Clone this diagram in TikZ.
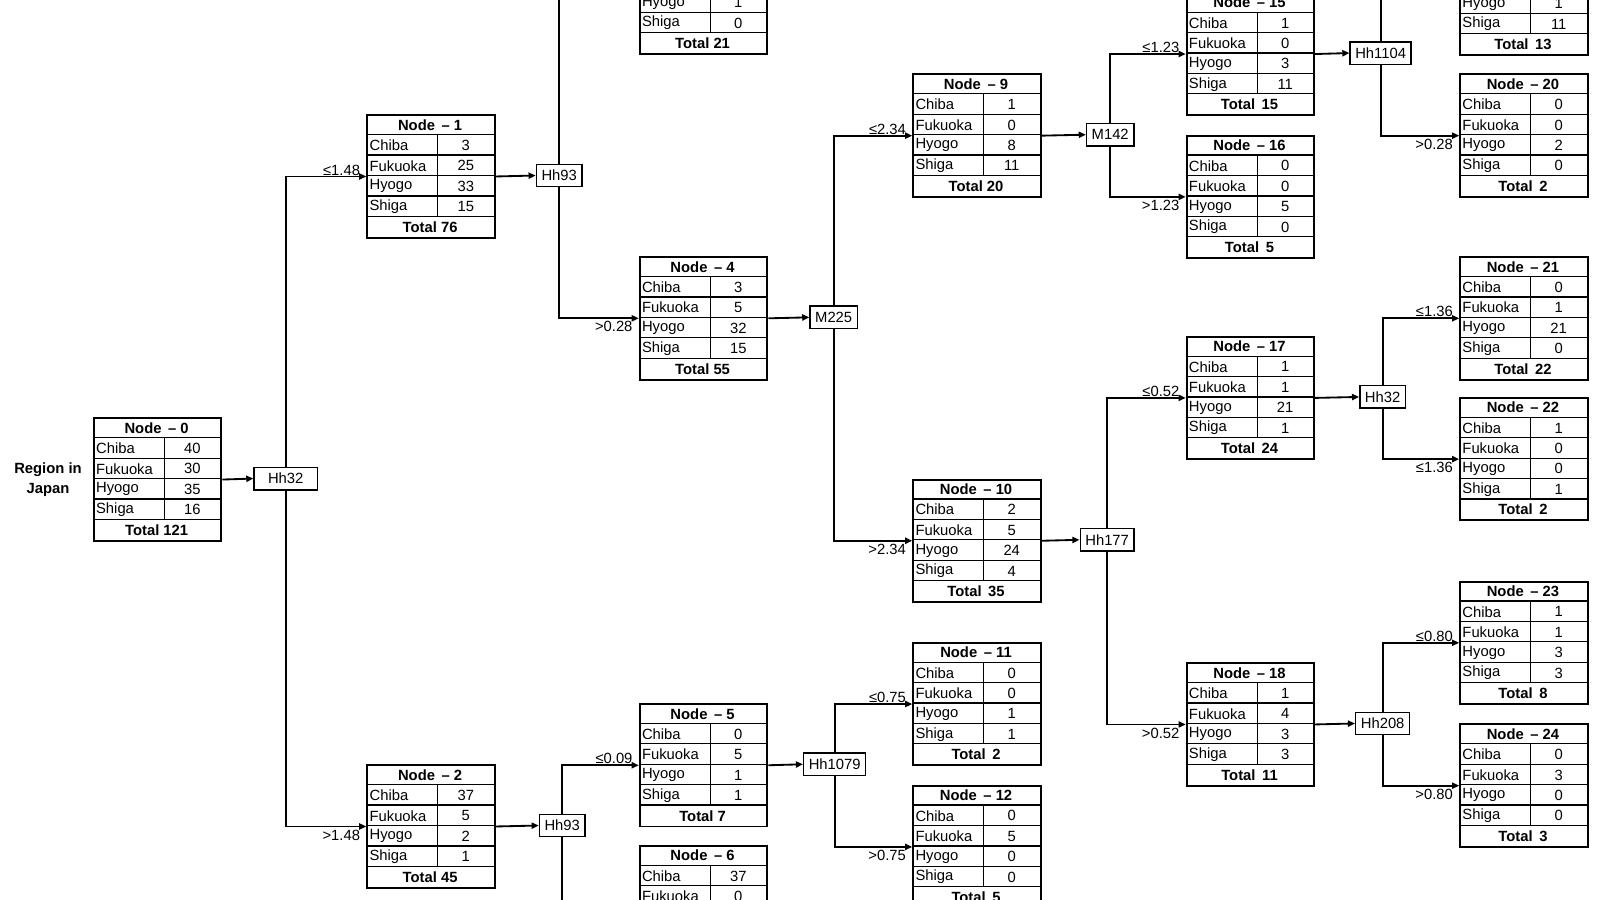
\documentclass[tikz,border=0pt]{standalone}
\usepackage{fontspec}
\setmainfont{Liberation Sans}
\usetikzlibrary{arrows.meta}
\tikzset{
  tb/.style={draw, line width=1.9pt, inner sep=0pt},
  cell/.style={inner sep=0pt, font=\fontsize{14.5}{15}\selectfont},
  hd/.style={cell, font=\fontsize{14.5}{15}\selectfont\bfseries},
  sp/.style={draw, line width=1.4pt, minimum height=22pt, inner xsep=5pt, inner ysep=0pt, font=\fontsize{14.5}{15}\selectfont, fill=white},
  arr/.style={line width=1.8pt, -{Triangle[length=7pt,width=6pt]}},
  lbl/.style={inner sep=0pt, font=\fontsize{14.5}{15}\selectfont}
}
\newcommand\tbl[9]{%
  \node[tb, minimum width=125pt, minimum height=120pt, anchor=north west] (#1) at (#2,#3) {};
  \foreach \k in {20,40,60,80,100}{\draw[line width=1.2pt] ({#2},{#3+\k}) -- ({#2+125},{#3+\k});}
  \draw[line width=1.2pt] ({#2+70},{#3+20}) -- ({#2+70},{#3+100});
  \node[hd] (#1-t) at ({#2+62.5},{#3+10.5}) {#4};
  \node[cell, anchor=west] (#1-a) at ({#2+3},{#3+30.5}) {Chiba};
  \node[cell, anchor=west] (#1-b) at ({#2+3},{#3+50.5}) {Fukuoka};
  \node[cell, anchor=west] (#1-c) at ({#2+3},{#3+70.5}) {Hyogo};
  \node[cell, anchor=west] (#1-d) at ({#2+3},{#3+90.5}) {Shiga};
  \node[cell] (#1-va) at ({#2+97.5},{#3+30.5}) {#5};
  \node[cell] (#1-vb) at ({#2+97.5},{#3+50.5}) {#6};
  \node[cell] (#1-vc) at ({#2+97.5},{#3+70.5}) {#7};
  \node[cell] (#1-vd) at ({#2+97.5},{#3+90.5}) {#8};
  \node[hd] (#1-tt) at ({#2+62.5},{#3+110.5}) {#9};
}
\begin{document}
\begin{tikzpicture}[x=1pt,y=-1pt]
\useasboundingbox (0,0) rectangle (1568,882);
\clip (0,0) rectangle (1568,882);
\fill[white] (0,0) rectangle (1568,882);

\node[lbl, align=center, font=\fontsize{14.5}{19}\selectfont\bfseries] (reg) at (47,470) {Region in\\Japan};

\tbl{N0}{91}{409}{Node \,– 0}{40}{30}{35}{16}{Total 121}
\tbl{N1}{359}{112}{Node \,– 1}{3}{25}{33}{15}{Total 76}
\tbl{N2}{359}{749}{Node \,– 2}{37}{5}{2}{1}{Total 45}
\tbl{N3}{626}{-68}{Node \,– 3}{0}{20}{1}{0}{Total 21}
\tbl{N4}{626}{251}{Node \,– 4}{3}{5}{32}{15}{Total 55}
\tbl{N5}{626}{689}{Node \,– 5}{0}{5}{1}{1}{Total 7}
\tbl{N6}{626}{828}{Node \,– 6}{37}{0}{1}{0}{Total 38}
\tbl{N9}{894}{72}{Node \,– 9}{1}{0}{8}{11}{Total 20}
\tbl{N10}{894}{469}{Node \,– 10}{2}{5}{24}{4}{Total \,35}
\tbl{N11}{894}{629}{Node \,– 11}{0}{0}{1}{1}{Total \,2}
\tbl{N12}{894}{769}{Node \,– 12}{0}{5}{0}{0}{Total \,5}
\tbl{N15}{1162}{-8}{Node \,– 15}{1}{0}{3}{11}{Total \,15}
\tbl{N16}{1162}{132}{Node \,– 16}{0}{0}{5}{0}{Total \,5}
\tbl{N17}{1162}{329}{Node \,– 17}{1}{1}{21}{1}{Total \,24}
\tbl{N18}{1162}{649}{Node \,– 18}{1}{4}{3}{3}{Total \,11}
\tbl{N19}{1430}{-67}{Node \,– 19}{1}{0}{1}{11}{Total \,13}
\tbl{N20}{1430}{72}{Node \,– 20}{0}{0}{2}{0}{Total \,2}
\tbl{N21}{1430}{251}{Node \,– 21}{0}{1}{21}{0}{Total \,22}
\tbl{N22}{1430}{389}{Node \,– 22}{1}{0}{0}{1}{Total \,2}
\tbl{N23}{1430}{569}{Node \,– 23}{1}{1}{3}{3}{Total \,8}
\tbl{N24}{1430}{709}{Node \,– 24}{0}{3}{0}{0}{Total \,3}

\node[sp, minimum width=62pt] (S0) at (280,469) {Hh32};
\node[sp] (S1) at (548,172) {Hh93};
\node[sp] (S2) at (551,809) {Hh93};
\node[sp] (S4) at (817,311) {M225};
\node[sp] (S5) at (818,749) {Hh1079};
\node[sp] (S9) at (1088,132) {M142};
\node[sp] (S10) at (1085,529) {Hh177};
\node[sp] (S15) at (1353,52) {Hh1104};
\node[sp] (S17) at (1355,389) {Hh32};
\node[sp] (S18) at (1355,709) {Hh208};

\foreach \p/\s in {N0/S0,N1/S1,N2/S2,N4/S4,N5/S5,N9/S9,N10/S10,N15/S15,N17/S17,N18/S18}
  \draw[arr] (\p.east) -- (\s.west);

\foreach \s/\a/\b in {S0/N1/N2,S1/N3/N4,S2/N5/N6,S4/N9/N10,S5/N11/N12,S9/N15/N16,S10/N17/N18,S15/N19/N20,S17/N21/N22,S18/N23/N24}{
  \draw[arr] (\s.north) |- (\a.west);
  \draw[arr] (\s.south) |- (\b.west);
}

\node[lbl, anchor=south east] (L1) at ([xshift=-6pt,yshift=1pt]N1.west) {≤1.48};
\node[lbl, anchor=north east] (L2) at ([xshift=-6pt,yshift=-3pt]N2.west) {>1.48};
\node[lbl, anchor=north east] (L4) at ([xshift=-6pt,yshift=-3pt]N4.west) {>0.28};
\node[lbl, anchor=south east] (L5) at ([xshift=-6pt,yshift=1pt]N5.west) {≤0.09};
\node[lbl, anchor=south east] (L9) at ([xshift=-6pt,yshift=1pt]N9.west) {≤2.34};
\node[lbl, anchor=north east] (L10) at ([xshift=-6pt,yshift=-3pt]N10.west) {>2.34};
\node[lbl, anchor=south east] (L11) at ([xshift=-6pt,yshift=1pt]N11.west) {≤0.75};
\node[lbl, anchor=north east] (L12) at ([xshift=-6pt,yshift=-3pt]N12.west) {>0.75};
\node[lbl, anchor=south east] (L15) at ([xshift=-6pt,yshift=1pt]N15.west) {≤1.23};
\node[lbl, anchor=north east] (L16) at ([xshift=-6pt,yshift=-3pt]N16.west) {>1.23};
\node[lbl, anchor=south east] (L17) at ([xshift=-6pt,yshift=1pt]N17.west) {≤0.52};
\node[lbl, anchor=north east] (L18) at ([xshift=-6pt,yshift=-3pt]N18.west) {>0.52};
\node[lbl, anchor=north east] (L20) at ([xshift=-6pt,yshift=-3pt]N20.west) {>0.28};
\node[lbl, anchor=south east] (L21) at ([xshift=-6pt,yshift=1pt]N21.west) {≤1.36};
\node[lbl, anchor=north east] (L22) at ([xshift=-6pt,yshift=-3pt]N22.west) {≤1.36};
\node[lbl, anchor=south east] (L23) at ([xshift=-6pt,yshift=1pt]N23.west) {≤0.80};
\node[lbl, anchor=north east] (L24) at ([xshift=-6pt,yshift=-3pt]N24.west) {>0.80};
\end{tikzpicture}
\end{document}
